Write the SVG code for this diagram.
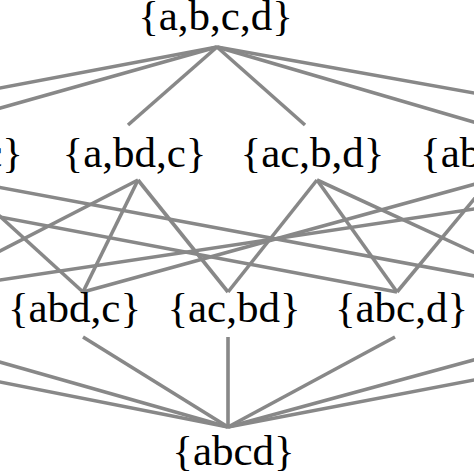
<svg xmlns="http://www.w3.org/2000/svg" width="474" height="474" viewBox="0 0 474 474">
<style>
.n text{font-family:"Liberation Serif","Times New Roman",serif;font-size:43px;fill:#000;text-anchor:middle}
.e line{stroke:#888;stroke-width:3.6;stroke-linecap:butt}
</style>
<rect width="474" height="474" fill="#fff"/>
<g id="connectors" class="e">
<line x1="217" y1="47" x2="-196" y2="125"/>
<line x1="217" y1="47" x2="-60" y2="125"/>
<line x1="217" y1="47" x2="128" y2="125"/>
<line x1="217" y1="47" x2="305" y2="125"/>
<line x1="217" y1="47" x2="484" y2="125"/>
<line x1="217" y1="47" x2="653" y2="125"/>
<line x1="-40" y1="180" x2="83" y2="292"/>
<line x1="-40" y1="180" x2="560" y2="292"/>
<line x1="-196" y1="180" x2="397" y2="292"/>
<line x1="138" y1="180" x2="-80" y2="292"/>
<line x1="138" y1="180" x2="83" y2="292"/>
<line x1="138" y1="180" x2="228" y2="292"/>
<line x1="317" y1="180" x2="228" y2="292"/>
<line x1="317" y1="180" x2="397" y2="292"/>
<line x1="317" y1="180" x2="560" y2="292"/>
<line x1="490" y1="180" x2="83" y2="292"/>
<line x1="490" y1="180" x2="397" y2="292"/>
<line x1="668" y1="180" x2="-80" y2="292"/>
<line x1="-228" y1="337" x2="228" y2="427"/>
<line x1="-88" y1="337" x2="228" y2="427"/>
<line x1="83" y1="337" x2="228" y2="427"/>
<line x1="228" y1="337" x2="228" y2="427"/>
<line x1="395" y1="337" x2="228" y2="427"/>
<line x1="558" y1="337" x2="228" y2="427"/>
<line x1="699" y1="337" x2="228" y2="427"/>
</g>
<g id="n-top" class="n"><text x="215.5" y="30">{a,b,c,d}</text></g>
<g id="n-ad-b-c" class="n"><text x="-49" y="167">{ad,b,c}</text></g>
<g id="n-a-bd-c" class="n"><text x="134.5" y="167">{a,bd,c}</text></g>
<g id="n-ac-b-d" class="n"><text x="312.5" y="167">{ac,b,d}</text></g>
<g id="n-ab-c-d" class="n"><text x="492" y="167">{ab,c,d}</text></g>
<g id="n-abd-c" class="n"><text x="74.5" y="322">{abd,c}</text></g>
<g id="n-ac-bd" class="n"><text x="234" y="322">{ac,bd}</text></g>
<g id="n-abc-d" class="n"><text x="401.5" y="322">{abc,d}</text></g>
<g id="n-bottom" class="n"><text x="233.5" y="465">{abcd}</text></g>
</svg>
